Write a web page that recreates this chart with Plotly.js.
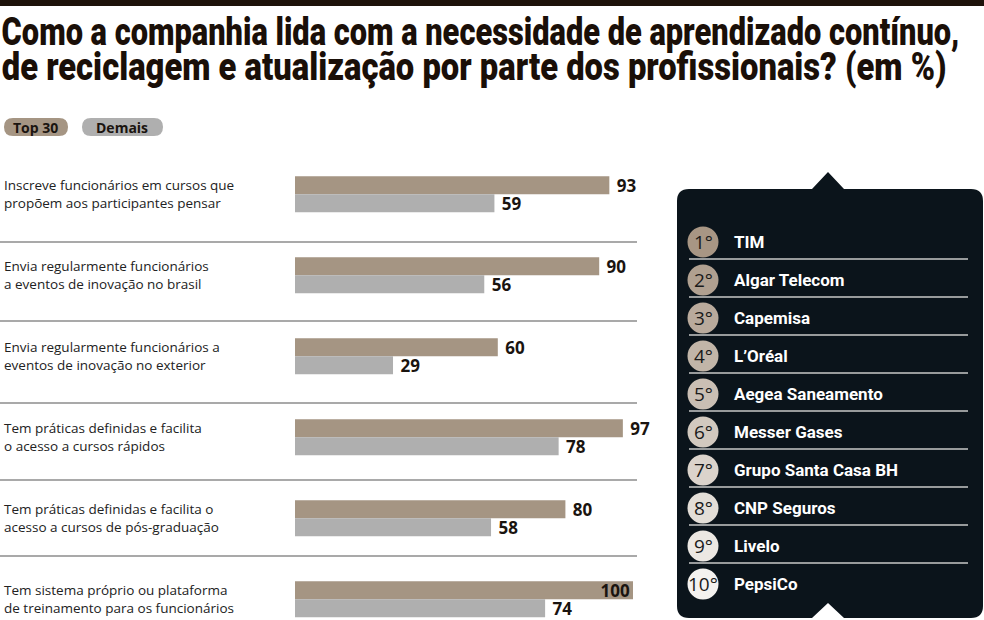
<!DOCTYPE html>
<html>
<head>
<meta charset="utf-8">
<script src="https://cdn.plot.ly/plotly-3.0.1.min.js"></script>
<style>html,body{margin:0;padding:0;background:#fff;}#chart{width:984px;height:620px;}</style>
</head>
<body>
<div id="chart"></div>
<script>
// ---- data ----
const titleLines = [
  'Como a companhia lida com a necessidade de aprendizado contínuo,',
  'de reciclagem e atualização por parte dos profissionais? (em %)'
];
const seriesNames = ['Top 30', 'Demais'];
const categories = [
  'Inscreve funcionários em cursos que<br>propõem aos participantes pensar',
  'Envia regularmente funcionários<br>a eventos de inovação no brasil',
  'Envia regularmente funcionários a<br>eventos de inovação no exterior',
  'Tem práticas definidas e facilita<br>o acesso a cursos rápidos',
  'Tem práticas definidas e facilita o<br>acesso a cursos de pós-graduação',
  'Tem sistema próprio ou plataforma<br>de treinamento para os funcionários'
];
const top30 = [93, 90, 60, 97, 80, 100];
const demais = [59, 56, 29, 78, 58, 74];
const rankLabels = ['1°','2°','3°','4°','5°','6°','7°','8°','9°','10°'];
const rankNames = ['TIM','Algar Telecom','Capemisa','L’Oréal','Aegea Saneamento','Messer Gases','Grupo Santa Casa BH','CNP Seguros','Livelo','PepsiCo'];

// ---- helpers (layout only) ----
const W = 984, H = 620;
const px = x => x / W;
const py = y => 1 - y / H;
const bodyFont = '"Open Sans", Lato, sans-serif';
const numFont = '"Open Sans", Lato, sans-serif';
const titleFont = 'Roboto, "DejaVu Sans", sans-serif';
const nameFont = 'Roboto, "Liberation Sans", sans-serif';
const brown = '#a59583', gray = '#afafaf', dark = '#1a1410';

function labelTemplate(v){ return v >= 100 ? '%{x}' : '\u00a0%{x}'; }
function labelPos(v){ return v >= 100 ? 'inside' : 'outside'; }

const numStyle = {family: numFont, size:17, color: dark, weight: 700};
const traces = [
  {type:'bar', orientation:'h', name: seriesNames[0], y: categories, x: top30,
   marker:{color: brown, line:{width:0}},
   texttemplate: top30.map(labelTemplate), textposition: top30.map(labelPos),
   insidetextanchor:'end', constraintext:'none', cliponaxis:false,
   textfont: numStyle, insidetextfont: numStyle, outsidetextfont: numStyle,
   hoverinfo:'skip'},
  {type:'bar', orientation:'h', name: seriesNames[1], y: categories, x: demais,
   marker:{color: gray, line:{width:0}},
   texttemplate: demais.map(labelTemplate), textposition: demais.map(labelPos),
   insidetextanchor:'end', constraintext:'none', cliponaxis:false,
   textfont: numStyle, insidetextfont: numStyle, outsidetextfont: numStyle,
   hoverinfo:'skip'}
];

const shapes = [];
const annotations = [];

// top dark strip
shapes.push({type:'rect', xref:'paper', yref:'paper', x0:0, x1:1, y0:py(6), y1:1, fillcolor:'#1e130b', line:{width:0}, layer:'above'});

// title lines (condensed after render to the reference width)
const titleY = [32, 67];
const titleWidths = [958, 945];
titleLines.forEach((t,i)=>annotations.push({
  text: t, xref:'paper', yref:'paper', x: px(0), y: py(titleY[i]), xanchor:'left', yanchor:'middle', align:'left',
  showarrow:false, font:{family: titleFont, size:38, color:'#1a0f08', weight:900}
}));

// legend pills
const pills = [{x0:4, x1:68, c:brown}, {x0:82, x1:163, c:gray}];
pills.forEach((p,i)=>{
  const y0 = 118, y1 = 136, r = 9;
  const path = `M ${px(p.x0+r)} ${py(y0)} L ${px(p.x1-r)} ${py(y0)} Q ${px(p.x1)} ${py(y0)} ${px(p.x1)} ${py((y0+y1)/2)} Q ${px(p.x1)} ${py(y1)} ${px(p.x1-r)} ${py(y1)} L ${px(p.x0+r)} ${py(y1)} Q ${px(p.x0)} ${py(y1)} ${px(p.x0)} ${py((y0+y1)/2)} Q ${px(p.x0)} ${py(y0)} ${px(p.x0+r)} ${py(y0)} Z`;
  shapes.push({type:'path', xref:'paper', yref:'paper', path, fillcolor:p.c, line:{width:0}});
  annotations.push({text: seriesNames[i], xref:'paper', yref:'paper', x: px((p.x0+p.x1)/2 - 1), y: py(127),
    xanchor:'center', yanchor:'middle', showarrow:false, font:{family: bodyFont, size:14, color:dark, weight:700}});
});

// category labels and separators
const sepY = [242, 321, 403, 480, 556];
categories.forEach((c,i)=>{
  annotations.push({text: c, xref:'paper', yref:'y', x: px(2), y: c, xanchor:'left', yanchor:'middle',
    align:'left', showarrow:false, font:{family: bodyFont, size:13.5, color:'#222'}});
});
sepY.forEach(y=>shapes.push({type:'line', xref:'paper', yref:'paper', x0:0, x1:px(637), y0:py(y), y1:py(y),
  line:{color:'#8c8c8c', width:1.5}}));

// right panel
{
  const x0=677, x1=983, y0=189, y1=618, r=12;
  const path = [
    `M ${px(x0+r)} ${py(y0)}`, `L ${px(812)} ${py(y0)}`, `L ${px(828)} ${py(172)}`, `L ${px(844)} ${py(y0)}`,
    `L ${px(x1-r)} ${py(y0)}`, `Q ${px(x1)} ${py(y0)} ${px(x1)} ${py(y0+r)}`,
    `L ${px(x1)} ${py(y1-r)}`, `Q ${px(x1)} ${py(y1)} ${px(x1-r)} ${py(y1)}`,
    `L ${px(844)} ${py(y1)}`, `L ${px(828)} ${py(603)}`, `L ${px(812)} ${py(y1)}`,
    `L ${px(x0+r)} ${py(y1)}`, `Q ${px(x0)} ${py(y1)} ${px(x0)} ${py(y1-r)}`,
    `L ${px(x0)} ${py(y0+r)}`, `Q ${px(x0)} ${py(y0)} ${px(x0+r)} ${py(y0)}`, 'Z'
  ].join(' ');
  shapes.push({type:'path', xref:'paper', yref:'paper', path, fillcolor:'#0b141b', line:{width:0}});
}
const c0 = [168,150,132], c1 = [244,242,239];
rankNames.forEach((n,i)=>{
  const cy = 242 + 38*i, cx = 703, r = 15.5;
  const t = i/(rankNames.length-1);
  const col = `rgb(${c0.map((v,k)=>Math.round(v+(c1[k]-v)*t)).join(',')})`;
  shapes.push({type:'circle', xref:'paper', yref:'paper', x0:px(cx-r), x1:px(cx+r), y0:py(cy+r), y1:py(cy-r),
    fillcolor: col, line:{width:0}});
  annotations.push({text: rankLabels[i], xref:'paper', yref:'paper', x:px(cx), y:py(cy), xanchor:'center', yanchor:'middle',
    showarrow:false, font:{family: bodyFont, size:19, color:'#1a1a1a'}});
  annotations.push({text: n, xref:'paper', yref:'paper', x:px(732), y:py(cy), xanchor:'left', yanchor:'middle',
    showarrow:false, font:{family: nameFont, size:17, color:'#ffffff', weight:700}});
  if (i < rankNames.length - 1) {
    shapes.push({type:'line', xref:'paper', yref:'paper', x0:px(689), x1:px(968), y0:py(cy+17), y1:py(cy+17),
      line:{color:'#c9c9c9', width:1.5}});
  }
});

const layout = {
  width: W, height: H,
  margin:{l:0, r:0, t:0, b:0, pad:0},
  paper_bgcolor:'#ffffff', plot_bgcolor:'rgba(0,0,0,0)',
  showlegend:false,
  barmode:'group', bargap:0.556, bargroupgap:0,
  xaxis:{domain:[px(295), px(633)], range:[0,100], visible:false, fixedrange:true},
  yaxis:{domain:[0, py(153.7)], type:'category', range:[5.257, -0.5], visible:false, fixedrange:true},
  shapes, annotations,
  font:{family: bodyFont}
};

Plotly.newPlot('chart', traces, layout, {displayModeBar:false, staticPlot:true}).then(gd=>{
  // condense the heavy title text horizontally to the reference line widths
  titleWidths.forEach((w,i)=>{
    const el = gd.querySelector(`.annotation[data-index="${i}"] text.annotation-text`);
    if (el) {
      const cur = el.getComputedTextLength();
      if (cur > w) {
        const prev = el.getAttribute('transform') || '';
        el.setAttribute('transform', `${prev} scale(${(w/cur).toFixed(4)},1)`.trim());
      }
    }
  });
});
</script>
</body>
</html>
